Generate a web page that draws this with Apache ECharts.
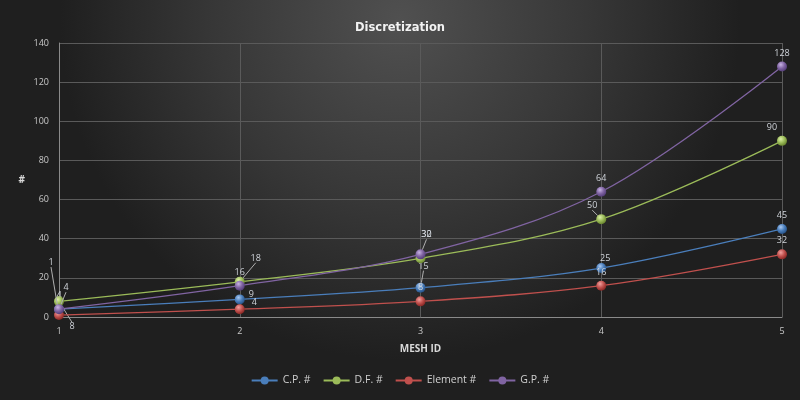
<!DOCTYPE html>
<html><head><meta charset="utf-8">
<script src="https://cdn.jsdelivr.net/npm/echarts@6/dist/echarts.min.js"></script>
<style>html,body{margin:0;padding:0;background:#2a2a2a}#c{width:800px;height:400px}</style>
</head><body><div id="c"></div>
<script>
const meshIds = [1, 2, 3, 4, 5];
const cpValues = [4, 9, 15, 25, 45];
const dfValues = [8, 18, 30, 50, 90];
const elementValues = [1, 4, 8, 16, 32];
const gpValues = [4, 16, 32, 64, 128];
const yTicks = [0, 20, 40, 60, 80, 100, 120, 140];

const names = ['C.P. #', 'D.F. #', 'Element #', 'G.P. #'];
const values = [cpValues, dfValues, elementValues, gpValues];
const colors = ['#4a7ebb', '#9bbb59', '#c0504d', '#8064a2'];
const lights = ['#a9c8f0', '#dcefa8', '#f0a09e', '#c7b3e3'];
const darks = ['#1f4a80', '#5f7a26', '#7d1f1c', '#4b3570'];

// label placement styling per series / point: [position, dx, dy]
const labelStyles = [
  [['top',0,0],['right',0,-5],['top',3,-8],['top',4,4],['top',0,0]],
  [['bottom',13,12],['top',16,-10],['top',6,-10],['top',-9,0],['top',-10,0]],
  [['top',-8,-39],['right',3,-7],['top',0,0],['top',0,0],['top',0,0]],
  [['top',7,-8],['top',0,0],['top',6,-6],['top',0,0],['top',0,0]]
];
const showLines = [[false,false,true,false,false],[true,true,false,true,false],[true,false,false,false,false],[true,false,true,false,false]];

function sphere(i){
  return {type:'radial', x:0.38, y:0.32, r:0.75, colorStops:[
    {offset:0, color:lights[i]}, {offset:0.5, color:colors[i]}, {offset:1, color:darks[i]}]};
}

const series = names.map((n, i) => ({
  name: n,
  type: 'line',
  smooth: 0.35,
  symbol: 'circle',
  symbolSize: 10,
  z: 2 + i,
  lineStyle: {color: colors[i], width: 1.3},
  itemStyle: {color: sphere(i), borderWidth: 0},
  data: meshIds.map((m, j) => ({
    value: [m, values[i][j]],
    label: {position: labelStyles[i][j][0]},
    labelLine: {show: showLines[i][j]}
  })),
  label: {show: true, color: '#d0d4da', fontSize: 9, fontFamily: 'Open Sans', distance: 4},
  labelLine: {show: false, lineStyle: {color: '#b0b0b0', width: 1}},
  labelLayout: p => ({dx: labelStyles[i][p.dataIndex][1], dy: labelStyles[i][p.dataIndex][2]}),
  emphasis: {disabled: true}
}));

const chart = echarts.init(document.getElementById('c'), null, {renderer: 'canvas'});
chart.setOption({
  backgroundColor: {type: 'radial', x: 0.5, y: 0.05, r: 0.85, colorStops: [
    {offset: 0, color: '#505050'}, {offset: 0.55, color: '#373737'}, {offset: 1, color: '#1f1f1f'}]},
  animation: false,
  color: colors,
  title: {text: 'Discretization', left: 'center', top: 17,
    textStyle: {color: '#f2f2f2', fontSize: 11.5, fontWeight: 'bold', fontFamily: 'DejaVu Sans'}},
  legend: {bottom: 9, left: 'center', itemWidth: 26, itemHeight: 10, itemGap: 12,
    textStyle: {color: '#d0d0d0', fontSize: 10.5, fontFamily: 'Open Sans'},
    data: names.map((n, i) => ({name: n, itemStyle: {color: colors[i]}}))},
  grid: {left: 59, right: 18, top: 43, bottom: 83},
  xAxis: {type: 'value', min: 1, max: 5, interval: 1, name: 'MESH ID', nameLocation: 'middle', nameGap: 27,
    nameTextStyle: {color: '#d9d9d9', fontSize: 10, fontWeight: 'bold', fontFamily: 'Open Sans'},
    axisLine: {show: true, lineStyle: {color: '#8a8a8a'}}, axisTick: {show: false},
    axisLabel: {color: '#c8c8c8', fontSize: 9, fontFamily: 'Open Sans', margin: 10, formatter: v => meshIds.includes(v) ? String(v) : ''},
    splitLine: {show: true, lineStyle: {color: '#5a5a5a', width: 1}}},
  yAxis: {type: 'value', min: yTicks[0], max: yTicks[yTicks.length-1], interval: 20, name: '#', nameLocation: 'middle', nameGap: 34, nameRotate: 0,
    nameTextStyle: {color: '#d9d9d9', fontSize: 10, fontWeight: 'bold', fontFamily: 'Open Sans'},
    axisLine: {show: true, lineStyle: {color: '#8a8a8a'}}, axisTick: {show: false},
    axisLabel: {color: '#c8c8c8', fontSize: 9, fontFamily: 'Open Sans', margin: 10},
    splitLine: {show: true, lineStyle: {color: '#5a5a5a', width: 1}}},
  series: series
});
</script></body></html>
